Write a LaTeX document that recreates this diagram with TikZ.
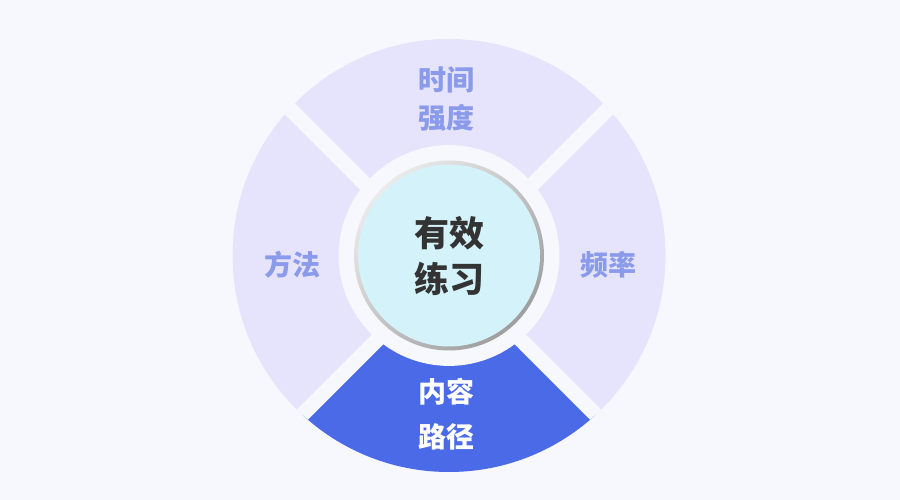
\documentclass[tikz,border=0pt]{standalone}
\usepackage{fontspec}
\newfontfamily\cjk{Noto Sans CJK SC}
\definecolor{bgcol}{HTML}{F7F8FE}
\definecolor{segcol}{HTML}{E6E3FC}
\definecolor{hicol}{HTML}{4A6AE8}
\definecolor{labcol}{HTML}{8B9BEB}
\definecolor{midcol}{HTML}{D3F2FA}
\definecolor{midtext}{HTML}{333333}

\tikzset{
  seglabel/.style={text=labcol, inner sep=0pt, align=center,
    font=\cjk\bfseries\fontsize{28}{38}\selectfont},
  hilabel/.style={seglabel, text=white,
    font=\cjk\bfseries\fontsize{28}{45}\selectfont},
  midlabel/.style={text=midtext, inner sep=0pt, align=center,
    font=\cjk\bfseries\fontsize{35}{46}\selectfont},
  gap/.style={draw=bgcol, line width=15pt},
}

\begin{document}
\begin{tikzpicture}[x=1pt,y=1pt]
\useasboundingbox[fill=bgcol] (0,0) rectangle (900,500);
\coordinate (c) at (449,244.5); % centre of the rings
\coordinate (x) at (449,232);   % centre of the gaps
% outer ring
\fill[segcol] (c) circle (216.5);
\begin{scope}
\clip (c) circle (216.5);
\fill[hicol] (x) -- ++(225:400) -- ++(0:566) -- cycle;
\foreach \a in {45,135,225,315} % the four gaps
  \draw[gap] (x) -- ++(\a:300);
\end{scope}
% inner white ring and centre disc
\fill[bgcol] (c) circle (110.4);
\shade[top color=black!8, bottom color=black!38, shading angle=45] (c) circle (95);
\fill[midcol] (c) circle (91);
\node[midlabel] (mid) at (449,243.5) {有效\\练习};
\node[seglabel] (time) at (446,401) {时间\\强度};
\node[seglabel] (method) at (292,235) {方法};
\node[seglabel] (freq) at (608,235) {频率};
\node[hilabel] (path) at (446,85.5) {内容\\路径};
\end{tikzpicture}
\end{document}
